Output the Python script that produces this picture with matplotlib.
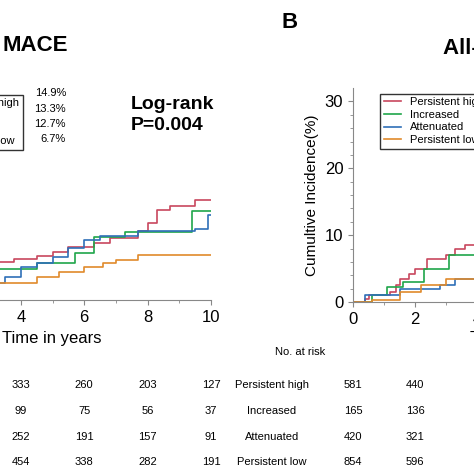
import matplotlib
matplotlib.use('Agg')
import matplotlib.pyplot as plt
from matplotlib.transforms import blended_transform_factory as blend

plt.rcParams['font.family'] = ['Liberation Sans', 'DejaVu Sans']

groups = ['Persistent high', 'Increased', 'Attenuated', 'Persistent low']
colors = ['#c8475e', '#1fa64a', '#2f6fb8', '#e08a2b']

# MACE step curves (time, cumulative %)
mace_t = [
    [0, 1, 2, 3.3, 3.8, 4.5, 5.0, 5.5, 6.3, 6.8, 7.7, 8.0, 8.3, 8.7, 9.5, 10],
    [0, 1, 2, 3.3, 4.5, 5.7, 6.3, 7.3, 9.4, 10],
    [0, 1, 2, 3.3, 3.5, 4.0, 4.5, 5.0, 5.5, 6.0, 6.5, 7.7, 9.5, 9.9, 10],
    [0, 1, 2, 3.3, 4.5, 5.2, 6.0, 6.6, 7.0, 7.7, 10],
]
mace_y = [
    [0, 2.0, 4.0, 5.7, 6.2, 6.6, 7.2, 8.0, 8.5, 9.2, 10.3, 11.5, 13.5, 14.0, 14.9, 14.9],
    [0, 2.0, 3.5, 4.6, 5.5, 7.0, 9.4, 10.1, 13.3, 13.3],
    [0, 1.5, 2.0, 2.5, 3.5, 5.0, 5.6, 6.5, 7.8, 9.0, 9.5, 10.3, 10.6, 12.7, 12.7],
    [0, 1.0, 2.0, 2.6, 3.5, 4.2, 5.0, 5.5, 6.0, 6.7, 6.7],
]
mace_pct = ['14.9%', '13.3%', '12.7%', '6.7%']

# All-cause death step curves
death_t = [
    [0, 0.4, 0.5, 1.2, 1.4, 1.5, 1.8, 2.0, 2.4, 3.0, 3.3, 3.6, 4.5],
    [0, 0.6, 1.1, 1.6, 2.3, 3.1, 4.5],
    [0, 0.4, 1.5, 2.8, 3.3, 4.5],
    [0, 0.6, 1.5, 2.2, 3.0, 4.5],
]
death_y = [
    [0, 0.5, 1.0, 1.5, 2.5, 3.5, 4.2, 5.0, 6.5, 7.0, 8.0, 8.5, 8.5],
    [0, 1.0, 2.2, 3.0, 5.0, 7.0, 7.0],
    [0, 1.0, 2.0, 2.5, 3.5, 3.5],
    [0, 0.3, 1.5, 2.5, 3.5, 3.5],
]

mace_risk_t = [4, 6, 8, 10]
mace_risk = [[333, 260, 203, 127], [99, 75, 56, 37], [252, 191, 157, 91], [454, 338, 282, 191]]
death_risk_t = [0, 2]
death_risk = [[581, 440], [165, 136], [420, 321], [854, 596]]

W = H = 474
fig = plt.figure(figsize=(4.74, 4.74), dpi=100)

def px_axes(x0, x1, ytop, ybot):
    return fig.add_axes([x0 / W, 1 - ybot / H, (x1 - x0) / W, (ybot - ytop) / H])

def style(ax):
    ax.set_xlim(0, 10)
    ax.set_ylim(0, 32)
    ax.set_xticks([0, 2, 4, 6, 8, 10])
    ax.set_xticks(range(11), minor=True)
    ax.set_yticks([0, 10, 20, 30])
    ax.set_yticks(range(0, 32, 2), minor=True)
    for s in ['top', 'right']:
        ax.spines[s].set_visible(False)
    for s in ['left', 'bottom']:
        ax.spines[s].set_color('#888888')
    ax.tick_params(labelsize=12, color='#888888')
    ax.tick_params(which='minor', length=2, color='#888888')
    ax.patch.set_alpha(0)

ax1 = px_axes(-106, 211, 86, 300)
style(ax1)
for t, y, c in zip(mace_t, mace_y, colors):
    ax1.step(t, y, where='post', color=c, lw=1.2)

ax2 = px_axes(353, 663, 88, 302)
style(ax2)
ax2.set_ylabel('Cumultive Incidence(%)', fontsize=11)
for t, y, c, g in zip(death_t, death_y, colors, groups):
    ax2.step(t, y, where='post', color=c, lw=1.2, label=g)
leg = ax2.legend(loc='upper left', bbox_to_anchor=(0.07, 1.0), fontsize=8, frameon=True,
                 fancybox=False, edgecolor='black', handlelength=1.6, borderpad=0.3,
                 labelspacing=0.25)
leg.get_frame().set_linewidth(1)

# left legend box (clipped by canvas)
lg1 = ax1.legend([plt.Line2D([], [], color=c) for c in colors], groups,
                 loc='upper left', bbox_to_anchor=(0.05, 0.985), fontsize=8, frameon=True,
                 fancybox=False, edgecolor='black', handlelength=1.6, borderpad=0.3,
                 labelspacing=0.25)
lg1.get_frame().set_linewidth(1)
for i, p in enumerate(mace_pct):
    fig.text(66 / W, 1 - (93 + i * 15.5) / H, p, fontsize=8, ha='right', va='center')

fig.text(35 / W, 1 - 45 / H, 'MACE', fontsize=16, fontweight='bold', ha='center', va='center')
fig.text(290 / W, 1 - 22 / H, 'B', fontsize=16, fontweight='bold', ha='center', va='center')
fig.text(525 / W, 1 - 48 / H, 'All-cause death', fontsize=16, fontweight='bold', ha='center', va='center')
fig.text(131 / W, 1 - 115 / H, 'Log-rank\nP=0.004', fontsize=14, fontweight='bold',
         ha='left', va='center', linespacing=1.25)
fig.text(52 / W, 1 - 338 / H, 'Time in years', fontsize=12, ha='center', va='center')
fig.text(520 / W, 1 - 338 / H, 'Time in years', fontsize=12, ha='center', va='center')

# risk tables
fig.text(300 / W, 1 - 352 / H, 'No. at risk', fontsize=8, ha='center', va='center')
rows_y = [385, 411, 437, 462]
tr1 = blend(ax1.transData, fig.transFigure)
tr2 = blend(ax2.transData, fig.transFigure)
for r, yy in enumerate(rows_y):
    for t, n in zip(mace_risk_t, mace_risk[r]):
        ax1.text(t, 1 - yy / H, str(n), transform=tr1, fontsize=8, ha='center', va='center', clip_on=False)
    for t, n in zip(death_risk_t, death_risk[r]):
        ax2.text(t, 1 - yy / H, str(n), transform=tr2, fontsize=8, ha='center', va='center', clip_on=False)
    fig.text(272 / W, 1 - yy / H, groups[r], fontsize=8, ha='center', va='center')

fig.savefig('out.png', dpi=100)
